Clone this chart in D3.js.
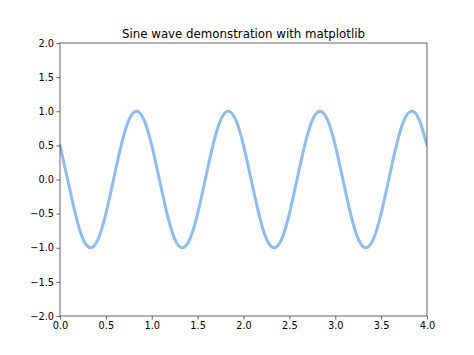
<!DOCTYPE html>
<html><head><meta charset="utf-8">
<script src="https://cdn.jsdelivr.net/npm/d3@7"></script>
<style>body{margin:0;background:#fff;} text{font-family:"DejaVu Sans",sans-serif;}</style>
</head><body>
<svg id="c" width="474" height="355"></svg>
<script>
const title = "Sine wave demonstration with matplotlib";
const xTicks = [0.0, 0.5, 1.0, 1.5, 2.0, 2.5, 3.0, 3.5, 4.0];
const yTicks = [-2.0, -1.5, -1.0, -0.5, 0.0, 0.5, 1.0, 1.5, 2.0];
const xValues = d3.range(0, 49).map(i => i / 12);
const yValues = [
  0.5, 0, -0.5, -0.87, -1, -0.87, -0.5, 0, 0.5, 0.87, 1, 0.87,
  0.5, 0, -0.5, -0.87, -1, -0.87, -0.5, 0, 0.5, 0.87, 1, 0.87,
  0.5, 0, -0.5, -0.87, -1, -0.87, -0.5, 0, 0.5, 0.87, 1, 0.87,
  0.5, 0, -0.5, -0.87, -1, -0.87, -0.5, 0, 0.5, 0.87, 1, 0.87,
  0.5
];

const svg = d3.select("#c");
const L = 60, R = 427, T = 43, B = 316;
const x = d3.scaleLinear().domain([0, 4]).range([L, R]);
const y = d3.scaleLinear().domain([-2, 2]).range([B, T]);

const clip = svg.append("clipPath").attr("id", "clip").append("rect")
  .attr("x", L).attr("y", T).attr("width", R - L).attr("height", B - T);

const pts = xValues.map((v, i) => [v, yValues[i]]);
svg.append("path").datum(pts)
  .attr("clip-path", "url(#clip)")
  .attr("fill", "none").attr("stroke", "#8dbdf0").attr("stroke-width", 3)
  .attr("stroke-linecap", "round")
  .attr("d", d3.line().x(d => x(d[0])).y(d => y(d[1])).curve(d3.curveNatural));

const fmt = d3.format(".1f");
const fmtM = v => fmt(v).replace("-", "\u2212");
const xa = svg.append("g").attr("transform", `translate(0,${B})`)
  .call(d3.axisBottom(x).tickValues(xTicks).tickFormat(fmtM).tickSize(3.5).tickPadding(2.5));
const ya = svg.append("g").attr("transform", `translate(${L},0)`)
  .call(d3.axisLeft(y).tickValues(yTicks).tickFormat(fmtM).tickSize(3.5).tickPadding(2.5));
[xa, ya].forEach(a => {
  a.select(".domain").remove();
  a.selectAll("line").attr("stroke", "#000").attr("stroke-width", 0.6);
  a.selectAll("text").attr("font-size", "9.8px").attr("fill", "#000")
    .attr("font-family", "DejaVu Sans");
});

svg.append("rect").attr("x", L).attr("y", T).attr("width", R - L).attr("height", B - T)
  .attr("fill", "none").attr("stroke", "#000").attr("stroke-width", 0.6);

svg.append("text").attr("x", (L + R) / 2).attr("y", T - 5)
  .attr("text-anchor", "middle").attr("font-size", "11.8px").attr("fill", "#000")
  .text(title);
</script>
</body></html>
